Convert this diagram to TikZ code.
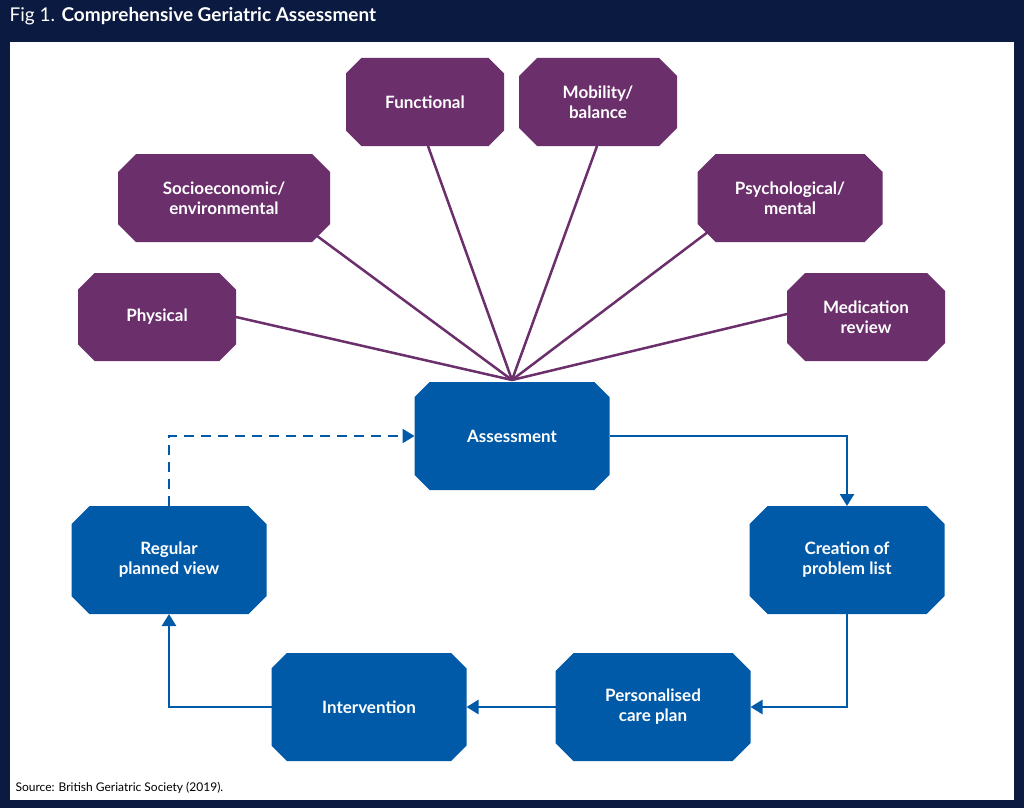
\documentclass[tikz,border=0pt]{standalone}
\usepackage{fontspec}
\setmainfont{Lato}
\usetikzlibrary{shapes.misc,arrows.meta}
\definecolor{navy}{HTML}{0B1A40}
\definecolor{plum}{HTML}{6B2F6B}
\definecolor{cgablue}{HTML}{005AA8}
\tikzset{
  box/.style={chamfered rectangle,chamfered rectangle xsep=9pt,chamfered rectangle ysep=9pt,
    draw=none,text=white,font=\fontsize{17}{20}\selectfont\bfseries,align=center,
    inner sep=0pt,outer sep=0pt},
  area/.style={box,fill=plum,minimum width=158pt,minimum height=88pt},
  stage/.style={box,fill=cgablue,minimum width=195pt,minimum height=108pt},
  spoke/.style={draw=plum,line width=2.5pt},
  flow/.style={draw=cgablue,line width=2.5pt,-{Triangle[length=12pt,width=14pt]}},
}
\begin{document}
\begin{tikzpicture}[x=1pt,y=-1pt]
\useasboundingbox (0,0) rectangle (1024,808);

%FRAME
\fill[navy] (0,0) rectangle (1024,808);
\fill[white] (10,42) rectangle (1014,800);
\node[anchor=west,text=white,font=\fontsize{19}{22}\selectfont] (title) at (6,16)
  {Fig 1. \textbf{Comprehensive Geriatric Assessment}};
\node[anchor=west,font=\fontsize{12}{14}\selectfont] (source) at (12,788)
  {Source: British Geriatric Society (2019).};

%DOMAINS
\node[area] (functional) at (425,102) {Functional};
\node[area] (mobility) at (598,102) {Mobility/\\balance};
\node[area,minimum width=212pt] (socio) at (224,198) {Socioeconomic/\\environmental};
\node[area,minimum width=185pt] (psych) at (790,198) {Psychological/\\mental};
\node[area] (physical) at (157,317) {Physical};
\node[area] (medication) at (866,317) {Medication\\review};

%CYCLE
\node[stage] (assessment) at (512,436) {Assessment};
\node[stage] (problems) at (847,560) {Creation of\\problem list};
\node[stage] (review) at (169,560) {Regular\\planned view};
\node[stage] (intervention) at (369,707) {Intervention};
\node[stage] (careplan) at (653,707) {Personalised\\care plan};

%SPOKES
\coordinate (hub) at (512,380);
\draw[spoke] (physical.east) -- (hub);
\draw[spoke] (socio.south east) ++(-8,0) -- (hub);
\draw[spoke] (functional.south) ++(3,0) -- (hub);
\draw[spoke] (mobility.south) ++(-1,0) -- (hub);
\draw[spoke] (psych.south west) ++(8,-6) -- (hub);
\draw[spoke] (medication.west) ++(0,-3) -- (hub);

%ARROWS
\draw[flow] (assessment.east) -| (problems.north);
\draw[flow] (problems.south) |- (careplan.east);
\draw[flow] (careplan.west) -- (intervention.east);
\draw[flow] (intervention.west) -| (review.south);
\draw[flow,dashed,dash pattern=on 10pt off 7pt] (review.north) |- (assessment.west);

\end{tikzpicture}
\end{document}
